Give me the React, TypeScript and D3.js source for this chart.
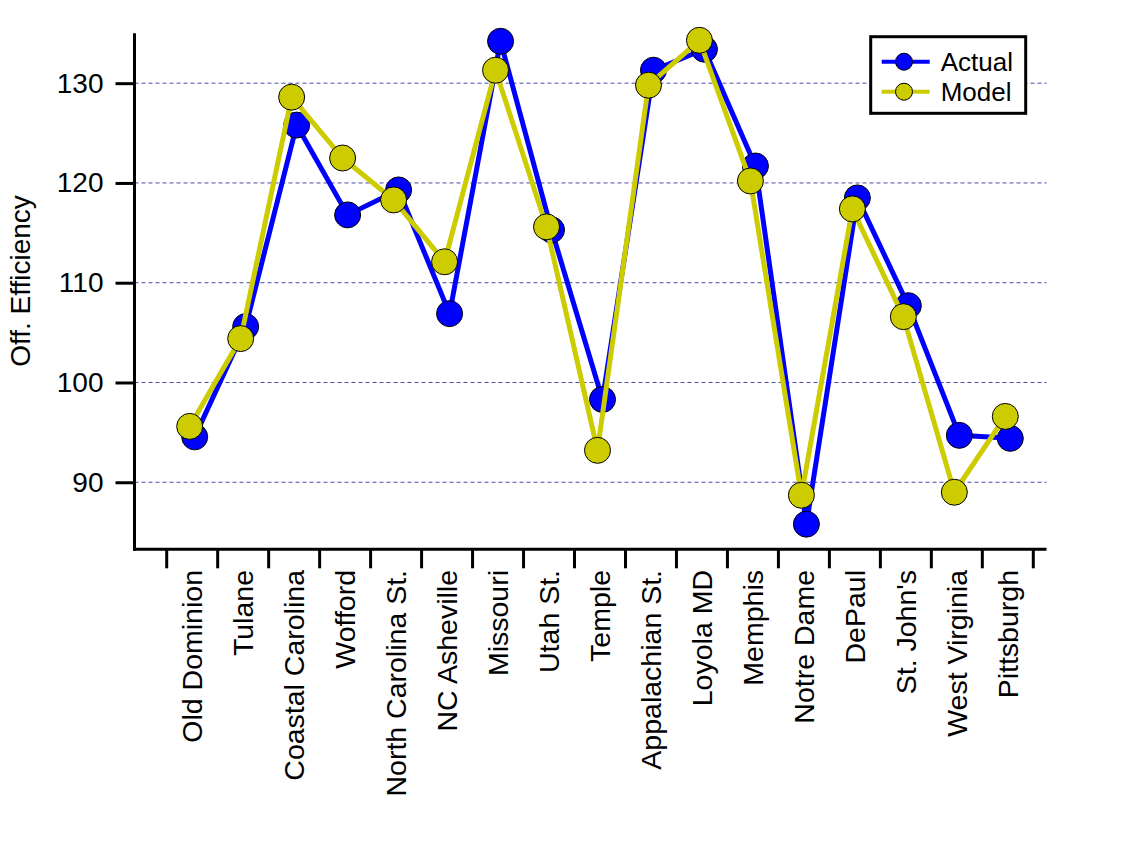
import { useEffect, useRef } from 'react';
import * as d3 from 'd3';

const teams = [
  'Old Dominion', 'Tulane', 'Coastal Carolina', 'Wofford', 'North Carolina St.',
  'NC Asheville', 'Missouri', 'Utah St.', 'Temple', 'Appalachian St.', 'Loyola MD',
  'Memphis', 'Notre Dame', 'DePaul', "St. John's", 'West Virginia', 'Pittsburgh',
];

const actual = [
  94.55, 105.6, 125.8, 116.8, 119.3, 106.9, 134.2, 115.3, 98.3,
  131.3, 133.4, 121.7, 85.8, 118.5, 107.7, 94.7, 94.4,
];

const model = [
  95.6, 104.4, 128.6, 122.5, 118.3, 112.1, 131.3, 115.6, 93.2,
  129.8, 134.3, 120.2, 88.7, 117.4, 106.6, 89.0, 96.6,
];

const yTicks = [90, 100, 110, 120, 130];

const series = [
  { name: 'Actual', values: actual, color: '#0000ff', shift: 2.5 },
  { name: 'Model', values: model, color: '#cccc00', shift: -2.5 },
];

const FONT = 'Arial, "Liberation Sans", sans-serif';

export default function App() {
  const svgRef = useRef<SVGSVGElement>(null);

  useEffect(() => {
    if (!svgRef.current) return;
    const svg = d3.select(svgRef.current);
    svg.selectAll('*').remove();

    const left = 134.5;
    const right = 1046.5;
    const top = 33.3;
    const bottom = 549.3;

    const x = d3.scaleBand<string>().domain(teams).range([166.7, 1033.3]).padding(0);
    const y = d3.scaleLinear().domain([83.28, 135]).range([bottom, top]);

    // grid lines
    svg.append('g')
      .selectAll('line')
      .data(yTicks)
      .enter()
      .append('line')
      .attr('x1', left)
      .attr('x2', right)
      .attr('y1', d => y(d))
      .attr('y2', d => y(d))
      .attr('stroke', '#4a4aa8')
      .attr('stroke-width', 1)
      .attr('stroke-dasharray', '4,3');

    // y axis
    const yAxis = svg.append('g')
      .attr('transform', `translate(${left},0)`)
      .call(d3.axisLeft(y).tickValues(yTicks).tickSize(19).tickPadding(12).tickSizeOuter(0));
    yAxis.select('.domain').remove();
    yAxis.selectAll('.tick line').attr('stroke', '#000').attr('stroke-width', 3);
    yAxis.selectAll('.tick text')
      .attr('fill', '#000')
      .style('font-family', FONT)
      .style('font-size', '28px');
    svg.append('line')
      .attr('x1', left).attr('x2', left)
      .attr('y1', top).attr('y2', bottom + 1.5)
      .attr('stroke', '#000').attr('stroke-width', 3);

    // x axis with ticks at band edges
    const edges = teams.map(t => x(t) as number).concat([x.range()[1]]);
    svg.append('g')
      .selectAll('line')
      .data(edges)
      .enter()
      .append('line')
      .attr('x1', d => d).attr('x2', d => d)
      .attr('y1', bottom).attr('y2', bottom + 19)
      .attr('stroke', '#000').attr('stroke-width', 3);
    svg.append('line')
      .attr('x1', left - 1.5).attr('x2', right)
      .attr('y1', bottom).attr('y2', bottom)
      .attr('stroke', '#000').attr('stroke-width', 3);

    svg.append('g')
      .selectAll('text')
      .data(teams)
      .enter()
      .append('text')
      .attr('transform', d => `translate(${(x(d) as number) + x.bandwidth() / 2},570) rotate(-90)`)
      .attr('dy', '0.36em')
      .attr('text-anchor', 'end')
      .style('font-family', FONT)
      .style('font-size', '28.5px')
      .text(d => d);

    // y title
    svg.append('text')
      .attr('transform', 'translate(30,281) rotate(-90)')
      .attr('text-anchor', 'middle')
      .style('font-family', FONT)
      .style('font-size', '28px')
      .text('Off. Efficiency');

    // series
    const px = (i: number, shift: number) => (x(teams[i]) as number) + x.bandwidth() / 2 + shift;
    series.forEach(s => {
      const line = d3.line<number>()
        .x((_, i) => px(i, s.shift))
        .y(d => y(d));
      svg.append('path')
        .datum(s.values)
        .attr('d', line)
        .attr('fill', 'none')
        .attr('stroke', s.color)
        .attr('stroke-width', 5)
        .attr('stroke-linejoin', 'round');
      svg.append('g')
        .selectAll('circle')
        .data(s.values)
        .enter()
        .append('circle')
        .attr('cx', (_, i) => px(i, s.shift))
        .attr('cy', d => y(d))
        .attr('r', 13)
        .attr('fill', s.color)
        .attr('stroke', '#000')
        .attr('stroke-width', 1);
    });

    // legend
    const legend = svg.append('g').attr('transform', 'translate(870.7,36.7)');
    legend.append('rect')
      .attr('width', 155)
      .attr('height', 76.6)
      .attr('fill', '#fff')
      .attr('stroke', '#000')
      .attr('stroke-width', 3);
    series.forEach((s, i) => {
      const g = legend.append('g').attr('transform', `translate(0,${25 + i * 30})`);
      g.append('line')
        .attr('x1', 11).attr('x2', 59)
        .attr('stroke', s.color).attr('stroke-width', 4);
      g.append('circle')
        .attr('cx', 33.3).attr('r', 8.5)
        .attr('fill', s.color).attr('stroke', '#000').attr('stroke-width', 1);
      g.append('text')
        .attr('x', 70)
        .attr('dy', '0.36em')
        .style('font-family', FONT)
        .style('font-size', '26px')
        .text(s.name);
    });
  }, []);

  return (
    <div>
      <style>{'body{margin:0;}'}</style>
      <svg ref={svgRef} width={1128} height={856} style={{ display: 'block', background: '#fff' }} />
    </div>
  );
}
